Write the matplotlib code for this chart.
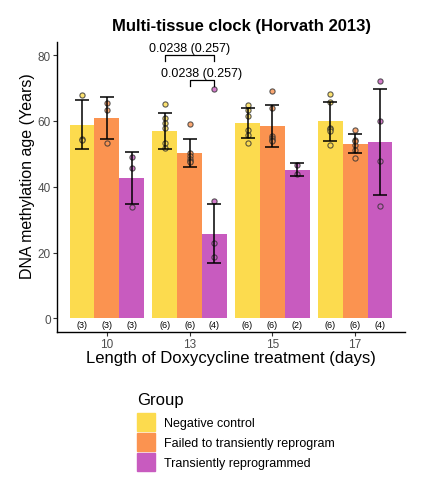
import numpy as np
import matplotlib.pyplot as plt

plt.rcParams['font.family'] = ['Liberation Sans', 'DejaVu Sans']

# data
days = ['10', '13', '15', '17']
groups = ['Negative control', 'Failed to transiently reprogram', 'Transiently reprogrammed']
colors = ['#FCDB4E', '#FB9350', '#C85BBF']

means = {
    'Negative control': [58.8, 56.9, 59.3, 59.8],
    'Failed to transiently reprogram': [60.8, 50.3, 58.5, 53.0],
    'Transiently reprogrammed': [42.6, 25.7, 45.1, 53.5],
}
sds = {
    'Negative control': [7.4, 5.5, 4.6, 5.8],
    'Failed to transiently reprogram': [6.4, 4.3, 6.3, 2.9],
    'Transiently reprogrammed': [7.8, 8.9, 2.0, 16.1],
}
points = {
    'Negative control': [
        [67.7, 54.5, 54.2],
        [65.1, 60.9, 59.3, 57.8, 53.2, 51.7],
        [64.9, 63.4, 61.6, 57.3, 55.8, 53.3],
        [68.1, 65.7, 57.8, 52.7, 57.5, 56.9],
    ],
    'Failed to transiently reprogram': [
        [65.3, 63.4, 53.3],
        [59.0, 50.2, 49.2, 48.4, 47.8, 47.5],
        [69.1, 64.0, 55.3, 54.7, 54.2, 54.0],
        [57.3, 54.3, 52.7, 51.2, 48.7, 53.8],
    ],
    'Transiently reprogrammed': [
        [48.9, 45.6, 33.9],
        [69.7, 35.7, 22.8, 18.5],
        [46.6, 43.9],
        [72.0, 59.9, 47.9, 34.2],
    ],
}
pval_label = '0.0238 (0.257)'

fig = plt.figure(figsize=(4.27, 5.02), dpi=100)
ax = fig.add_axes([0.134, 0.337, 0.814, 0.577])

x = np.arange(1, len(days) + 1)
width = 0.3

for i, g in enumerate(groups):
    xpos = x + (i - 1) * width
    ax.bar(xpos, means[g], width=width, color=colors[i], zorder=1)
    for j, xp in enumerate(xpos):
        vals = points[g][j]
        ax.scatter([xp] * len(vals), vals, s=14, facecolor=colors[i],
                   edgecolor='#333333', linewidth=0.8, alpha=0.8, zorder=2)
        ax.text(xp, -2, '(%d)' % len(vals), ha='center', va='center', fontsize=6.5)
    ax.errorbar(xpos, means[g], yerr=sds[g], fmt='none', ecolor='black',
                elinewidth=1.1, capsize=5, capthick=1.1, zorder=3)

# significance brackets for day 13
def bracket(x1, x2, y, h):
    ax.plot([x1, x1, x2, x2], [y - h, y, y, y - h], color='black', lw=0.9)
    ax.text((x1 + x2) / 2, y + 0.4, pval_label, ha='center', va='bottom', fontsize=9)

bracket(x[1] - width, x[1] + width, 80, 1.7)
bracket(x[1], x[1] + width, 72.4, 1.7)

ax.set_xlim(0.4, 4.6)
ax.set_ylim(-4.1, 83.9)
ax.set_xticks(x)
ax.set_xticklabels(days)
ax.set_yticks([0, 20, 40, 60, 80])
ax.tick_params(labelsize=8.5, labelcolor='#4D4D4D', color='#333333', length=3, pad=1.5)
for s in ['top', 'right']:
    ax.spines[s].set_visible(False)
for s in ['left', 'bottom']:
    ax.spines[s].set_linewidth(1.0)

ax.set_xlabel('Length of Doxycycline treatment (days)', fontsize=12, labelpad=0)
ax.set_ylabel('DNA methylation age (Years)', fontsize=11.5, labelpad=2)
ax.yaxis.set_label_coords(-0.065, 0.54)
fig.text(242 / 427, 0.947, 'Multi-tissue clock (Horvath 2013)', ha='center', va='center',
         fontsize=12, fontweight='bold')

handles = [plt.Rectangle((0, 0), 1, 1, color=c) for c in colors]
leg = fig.legend(handles, groups, loc='upper left', bbox_to_anchor=(0.32, 0.218),
                 title='Group', fontsize=9, title_fontsize=12, frameon=False,
                 handlelength=1.5, handleheight=1.9, labelspacing=0.12,
                 handletextpad=0.65, borderaxespad=0, borderpad=0)
leg._legend_box.align = 'left'
leg._legend_box.sep = 4.5  # a bit more room under the title

fig.savefig('out.png', dpi=100)
